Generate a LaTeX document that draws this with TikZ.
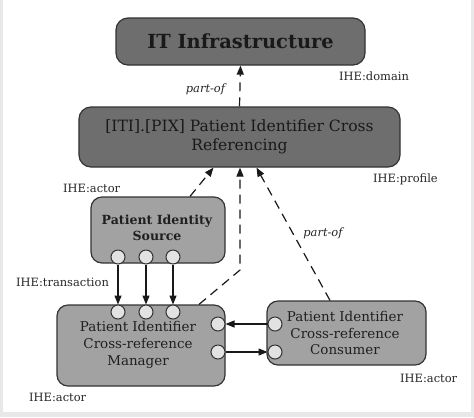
\documentclass[tikz,border=0pt]{standalone}
\usepackage{fontspec}
\setmainfont{DejaVu Serif}
\usetikzlibrary{arrows.meta,calc}
\definecolor{darkbox}{HTML}{6E6E6E}
\definecolor{actbox}{HTML}{A2A2A2}
\definecolor{portc}{HTML}{E2E2E2}
\definecolor{edgec}{HTML}{333333}
\definecolor{framec}{HTML}{E8E8E8}
\tikzset{
  domainbox/.style={draw=edgec,line width=1.2bp,fill=darkbox,rounded corners=12bp,minimum width=249bp,minimum height=47bp,inner sep=0pt,text=black!90,align=center},
  profilebox/.style={draw=edgec,line width=1.2bp,fill=darkbox,rounded corners=12bp,minimum width=321bp,minimum height=60bp,inner sep=0pt,text=black!90,align=center,font=\fontsize{15.6}{18.5}\selectfont},
  actorbox/.style={draw=edgec,line width=1.2bp,fill=actbox,rounded corners=11bp,inner sep=0pt,text=black!85,align=center},
  boxtext/.style={align=center,inner sep=0pt,text=black!88,font=\fontsize{13.5}{17}\selectfont},
  port/.style={circle,draw=edgec,line width=1bp,fill=portc,minimum size=14bp,inner sep=0pt},
  lbl/.style={anchor=west,inner sep=0pt,font=\fontsize{11.5}{13}\selectfont,text=black!85},
  rel/.style={font=\fontsize{11.5}{13}\selectfont\itshape,inner sep=0pt,text=black!85},
  partof/.style={draw=black!90,line width=1.2bp,dash pattern=on 9bp off 6bp,-{Triangle[length=9bp,width=7bp]}},
  trans/.style={draw=black!90,line width=1.2bp,-{Triangle[length=9bp,width=7bp]}},
}
\begin{document}
\begin{tikzpicture}[x=1bp,y=-1bp]
\fill[framec] (0,0) rectangle (474,417);
\fill[white] (3,0) rectangle (471,412);
\useasboundingbox (0,0) rectangle (474,417);
% boxes
\node[domainbox,font=\fontsize{19.5}{22}\selectfont\bfseries] (it) at (240.5,41.5) {IT Infrastructure};
\node[profilebox] (pix) at (239.5,137) {[ITI].[PIX] Patient Identifier Cross\\Referencing};
\node[actorbox,minimum width=134bp,minimum height=66bp] (src) at (158,230) {};
\node[actorbox,minimum width=168bp,minimum height=81bp] (mgr) at (141,345.5) {};
\node[actorbox,minimum width=159bp,minimum height=64bp] (con) at (346.5,333) {};
\node[boxtext,font=\fontsize{12.6}{16.5}\selectfont\bfseries] (srct) at (157,228) {Patient Identity\\Source};
\node[boxtext] (mgrt) at (138,345) {Patient Identifier\\Cross-reference\\Manager};
\node[boxtext] (cont) at (345,333) {Patient Identifier\\Cross-reference\\Consumer};
% ports
\node[port] (s1) at (118,257) {};
\node[port] (s2) at (146,257) {};
\node[port] (s3) at (173,257) {};
\node[port] (m1) at (118,312) {};
\node[port] (m2) at (146,312) {};
\node[port] (m3) at (173,312) {};
\node[port] (m4) at (218,324) {};
\node[port] (m5) at (218,352) {};
\node[port] (c1) at (275,324) {};
\node[port] (c2) at (275,352) {};
% labels
\node[lbl] (l1) at (339,76) {IHE:domain};
\node[lbl] (l2) at (373,179) {IHE:profile};
\node[lbl] (l3) at (63,188) {IHE:actor};
\node[lbl] (l4) at (16,282) {IHE:transaction};
\node[lbl] (l5) at (400,378) {IHE:actor};
\node[lbl] (l6) at (29,397) {IHE:actor};
\node[rel] (r1) at (205.5,89) {part-of};
\node[rel] (r2) at (323,233) {part-of};
% part-of connectors
\draw[partof] (pix.north) -- (it.south);
\draw[partof] ($(src.north)+(32,0)$) -- ($(pix.south)+(-26,0)$);
\coordinate (bend) at (240,270);
\draw[partof] ($(mgr.north)+(58,0)$) -- (bend) -- (bend |- pix.south);
\draw[partof] ($(con.north)+(-16.5,0)$) -- ($(pix.south)+(17,0)$);
% transactions
\draw[trans] (s1) -- (m1);
\draw[trans] (s2) -- (m2);
\draw[trans] (s3) -- (m3);
\draw[trans] (c1) -- (m4);
\draw[trans] (m5) -- (c2);
\end{tikzpicture}
\end{document}
